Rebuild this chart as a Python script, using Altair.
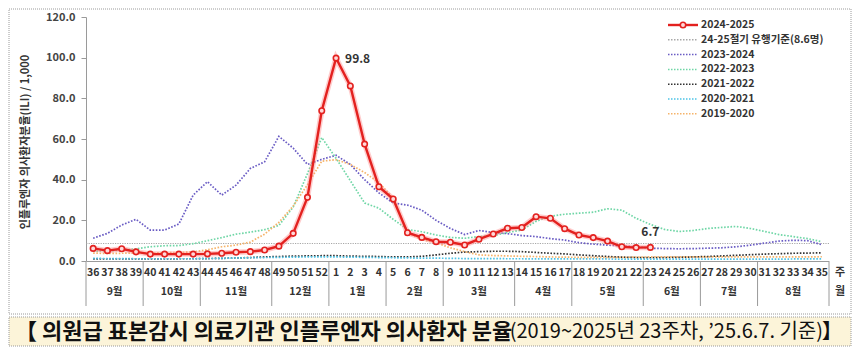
import altair as alt
import pandas as pd

# ---------------- data ----------------
weeks = list(range(36, 53)) + list(range(1, 36))
months = ["9월", "10월", "11월", "12월", "1월", "2월", "3월", "4월", "5월", "6월", "7월", "8월"]
month_weeks = [4, 4, 5, 4, 4, 4, 5, 4, 5, 4, 4, 5]

s2425 = [6.2, 5.1, 6.0, 4.5, 3.4, 3.4, 3.4, 3.4, 3.5, 3.8, 4.3, 4.6, 5.4, 7.3, 13.6, 31.3, 73.9,
         99.8, 86.1, 57.5, 36.5, 30.5, 13.9, 11.6, 9.5, 9.2, 7.9, 10.7, 13.3, 16.1, 16.5, 21.8, 21.0,
         15.9, 12.8, 11.5, 9.8, 7.0, 6.6, 6.7]
s2324 = [11.2, 13.6, 17.7, 20.5, 15.2, 15.2, 18.2, 32.4, 39.0, 32.4, 37.3, 45.5, 48.8, 61.3, 55.5, 47.5, 50.0,
         52.0, 47.5, 40.0, 33.5, 28.5, 27.5, 25.0, 20.0, 16.0, 13.0, 15.0, 14.0, 13.5, 12.5, 12.0, 11.0,
         10.3, 9.0, 8.3, 7.8, 7.4, 7.0, 6.3, 6.1, 6.0, 6.1, 6.3, 6.5, 7.0, 7.8, 8.8, 9.8, 10.2, 10.0, 8.0]
s2223 = [4.8, 5.0, 5.3, 6.0, 7.0, 7.5, 7.6, 8.5, 10.0, 11.5, 13.2, 14.2, 15.4, 17.5, 26.5, 43.0, 60.7,
         50.5, 39.5, 28.5, 26.0, 20.5, 15.5, 14.4, 12.8, 11.6, 11.2, 12.0, 12.5, 14.0, 15.2, 19.5, 22.0,
         23.0, 23.5, 24.0, 25.7, 25.0, 21.0, 18.0, 15.5, 14.5, 15.0, 16.0, 16.5, 17.0, 16.0, 14.5, 13.0,
         12.0, 11.0, 9.5]
s2122 = [1.0, 1.0, 1.0, 1.0, 1.0, 1.0, 1.1, 1.1, 1.2, 1.3, 1.5, 1.7, 2.0, 2.2, 2.4, 2.5, 2.6,
         2.6, 2.4, 2.3, 2.2, 2.0, 2.0, 2.3, 3.0, 3.8, 4.4, 4.6, 4.8, 4.8, 4.6, 4.2, 3.8,
         3.5, 3.0, 2.6, 2.2, 1.9, 1.7, 1.6, 1.7, 1.8, 2.0, 2.2, 2.5, 2.8, 3.1, 3.4, 3.6, 3.8, 3.9, 4.0]
s2021 = [1.3, 1.2, 1.2, 1.1, 1.1, 1.1, 1.1, 1.1, 1.2, 1.3, 1.5, 1.6, 1.7, 1.8, 1.9, 2.0, 2.0,
         2.0, 1.9, 1.8, 1.7, 1.6, 1.5, 1.4, 1.4, 1.3, 1.2, 1.2, 1.2, 1.1, 1.1, 1.0, 1.0,
         1.0, 1.0, 1.0, 1.0, 0.9, 0.9, 0.9, 0.9, 0.9, 0.9, 0.9, 0.9, 0.9, 0.9, 0.9, 0.9, 1.0, 1.0, 1.0]
s1920 = [3.9, 3.7, 3.8, 3.9, 3.9, 4.0, 4.2, 4.5, 5.5, 7.0, 7.8, 9.3, 13.2, 19.0, 27.0, 37.5, 49.1,
         49.8, 47.5, 43.5, 38.5, 31.0, 14.0, 10.5, 9.0, 6.5, 4.6, 3.0, 2.7, 2.5, 2.3, 2.2, 2.0,
         1.9, 1.8, 1.8, 1.8, 1.8, 1.9, 2.0, 2.0, 2.0, 2.0, 2.0, 2.0, 2.0, 2.0, 2.0, 2.0, 2.0, 2.0, 2.1]
baseline = 8.6

past_names = ["2023-2024", "2022-2023", "2021-2022", "2020-2021", "2019-2020"]
past_values = [s2324, s2223, s2122, s2021, s1920]
past_colors = ["#6a5cc4", "#6fd6a6", "#333333", "#4cc3e6", "#f5b36a"]
red = "#e3211f"
base_color = "#a8a8a8"

# ---------------- layout helpers (page px -> chart px) ----------------
PL, PT = 78, 9
W, H = 743, 244


def px(x):
    return x - 8 - PL


def py(y):
    return y - 8 - PT


FONT = "Noto Sans CJK KR"

# ---------------- frames ----------------
rows = []
for name, vals in zip(past_names, past_values):
    for i, v in enumerate(vals):
        rows.append({"idx": i, "v": v, "series": name})
past_df = pd.DataFrame(rows)
red_df = pd.DataFrame({"idx": list(range(len(s2425))), "v": s2425})
one = pd.DataFrame({"a": [0]})

X = alt.X("idx:Q", scale=alt.Scale(domain=[-0.5, 51.5], nice=False, zero=False),
          axis=alt.Axis(labels=False, ticks=False, title=None, grid=False,
                        domainColor="#9a9a9a", domainWidth=1))
Y = alt.Y("v:Q", scale=alt.Scale(domain=[0, 120], nice=False),
          axis=alt.Axis(values=[0, 20, 40, 60, 80, 100, 120], format=".1f", title=None, grid=False,
                        labelFont=FONT, labelFontWeight="bold", labelFontSize=11, labelColor="#444",
                        tickColor="#9a9a9a", tickSize=5, labelPadding=6, domainColor="#9a9a9a"))

# past seasons (dotted)
past = alt.Chart(past_df).mark_line(strokeDash=[1.6, 1.6], strokeWidth=1.7).encode(
    x=X, y=Y,
    color=alt.Color("series:N", scale=alt.Scale(domain=past_names, range=past_colors), legend=None),
    detail="series:N",
)

base_rule = alt.Chart(pd.DataFrame({"v": [baseline]})).mark_rule(
    color=base_color, strokeDash=[1.2, 1.2], strokeWidth=1.2).encode(y=Y)

red_glow = alt.Chart(red_df).mark_line(color="#ff8f8f", strokeWidth=5.5, opacity=0.45).encode(x=X, y=Y)
red_line = alt.Chart(red_df).mark_line(color=red, strokeWidth=2.4).encode(x=X, y=Y)
red_pts = alt.Chart(red_df).mark_point(shape="circle", size=30, filled=False, color=red, fill="#ffd9d9",
                                       fillOpacity=1, strokeWidth=1.6).encode(x=X, y=Y)

peak_i = s2425.index(max(s2425))
last_i = len(s2425) - 1
ann_df = pd.DataFrame({"idx": [peak_i, last_i], "v": [s2425[peak_i], s2425[last_i]],
                       "t": [f"{s2425[peak_i]:.1f}", f"{s2425[last_i]:.1f}"]})
ann_peak = alt.Chart(ann_df.iloc[[0]]).mark_text(font=FONT, fontWeight="bold", fontSize=12, color="#333",
                                                  align="left", baseline="middle", dx=9, dy=1).encode(
    x=X, y=Y, text="t:N")
ann_last = alt.Chart(ann_df.iloc[[1]]).mark_text(font=FONT, fontWeight="bold", fontSize=12, color="#333",
                                                  align="center", baseline="middle", dy=-15).encode(
    x=X, y=Y, text="t:N")

# ---------------- table under the x axis ----------------
week_df = pd.DataFrame({"idx": list(range(len(weeks))), "t": [str(w) for w in weeks]})
week_txt = alt.Chart(week_df).mark_text(font=FONT, fontWeight="bold", fontSize=10.5, color="#333",
                                        baseline="middle").encode(
    x=X, y=alt.value(py(273)), text="t:N")

starts, s = [], 0
for n in month_weeks:
    starts.append(s)
    s += n
month_df = pd.DataFrame({"idx": [st + (n - 1) / 2 for st, n in zip(starts, month_weeks)], "t": months})
month_txt = alt.Chart(month_df).mark_text(font=FONT, fontWeight="bold", fontSize=10.5, color="#333",
                                          baseline="middle").encode(
    x=X, y=alt.value(py(292)), text="t:N")

bounds = [-0.5] + [st + n - 0.5 for st, n in zip(starts, month_weeks)]
sep_df = pd.DataFrame({"idx": bounds})
seps = alt.Chart(sep_df).mark_rule(color="#9a9a9a", strokeWidth=1).encode(
    x=X, y=alt.value(py(262)), y2=alt.value(py(306)))

ju = alt.Chart(one).mark_text(text="주", font=FONT, fontWeight="bold", fontSize=11, color="#333",
                              baseline="middle").encode(x=alt.value(px(840)), y=alt.value(py(273)))
wol = alt.Chart(one).mark_text(text="월", font=FONT, fontWeight="bold", fontSize=11, color="#333",
                               baseline="middle").encode(x=alt.value(px(840)), y=alt.value(py(292)))

ytitle = alt.Chart(one).mark_text(text="인플루엔자 의사환자분율(ILI) / 1,000", font=FONT, fontWeight="bold",
                                  fontSize=11, color="#333", angle=270, baseline="middle").encode(
    x=alt.value(px(26)), y=alt.value(py(142)))

# ---------------- legend (manual) ----------------
leg_names = ["2024-2025", "24-25절기 유행기준(8.6명)"] + past_names
leg_colors = [red, base_color] + past_colors
leg_y = [25 + 14.8 * k for k in range(7)]
leg_layers = []
for k, (nm, col, yy) in enumerate(zip(leg_names, leg_colors, leg_y)):
    if k == 0:
        leg_layers.append(alt.Chart(one).mark_rule(color=red, strokeWidth=2.4).encode(
            x=alt.value(px(668)), x2=alt.value(px(698)), y=alt.value(py(yy))))
        leg_layers.append(alt.Chart(one).mark_point(shape="circle", size=30, filled=False, color=red,
                                                    fill="#ffd9d9", fillOpacity=1, strokeWidth=1.6).encode(
            x=alt.value(px(683)), y=alt.value(py(yy))))
    else:
        leg_layers.append(alt.Chart(one).mark_rule(color=col, strokeWidth=1.5, strokeDash=[1.5, 1.5]).encode(
            x=alt.value(px(668)), x2=alt.value(px(698)), y=alt.value(py(yy))))
    leg_layers.append(alt.Chart(one).mark_text(text=nm, font=FONT, fontWeight="bold", fontSize=10.5,
                                               color="#333", align="left", baseline="middle").encode(
        x=alt.value(px(701)), y=alt.value(py(yy))))

# ---------------- frame & caption ----------------
frame = alt.Chart(one).mark_rect(fill=None, stroke="#9a9a9a", strokeDash=[1, 1], strokeWidth=1).encode(
    x=alt.value(px(9)), x2=alt.value(px(851)), y=alt.value(py(9)), y2=alt.value(py(314)))
cap_box = alt.Chart(one).mark_rect(fill="#fcf4d9", stroke="#9a9a9a", strokeDash=[1, 1], strokeWidth=1).encode(
    x=alt.value(px(9)), x2=alt.value(px(851)), y=alt.value(py(317)), y2=alt.value(py(346)))
cap1 = alt.Chart(one).mark_text(text="【 의원급 표본감시 의료기관 인플루엔자 의사환자 분율", font=FONT,
                                fontWeight="bold", fontSize=22, color="#111", align="left",
                                baseline="middle").encode(x=alt.value(px(15)), y=alt.value(py(332)))
cap2 = alt.Chart(one).mark_text(text="(2019~2025년 23주차, ’25.6.7. 기준)", font=FONT,
                                fontWeight="normal", fontSize=20, color="#111", align="right",
                                baseline="middle").encode(x=alt.value(px(823)), y=alt.value(py(332)))
cap3 = alt.Chart(one).mark_text(text="】", font=FONT, fontWeight="bold", fontSize=20, color="#111",
                                align="right", baseline="middle").encode(
    x=alt.value(px(842)), y=alt.value(py(332)))

chart = alt.layer(
    frame, cap_box, cap1, cap2, cap3,
    seps, week_txt, month_txt, ju, wol, ytitle,
    base_rule, past, red_glow, red_line, red_pts, ann_peak, ann_last,
    *leg_layers,
).properties(
    width=W, height=H,
    autosize=alt.AutoSizeParams(type="none"),
    padding={"left": PL, "top": PT, "right": 844 - PL - W, "bottom": 345 - PT - H},
    background="white",
).configure_view(strokeWidth=0)

chart.save("out.html", embed_options={"renderer": "svg", "actions": False})
